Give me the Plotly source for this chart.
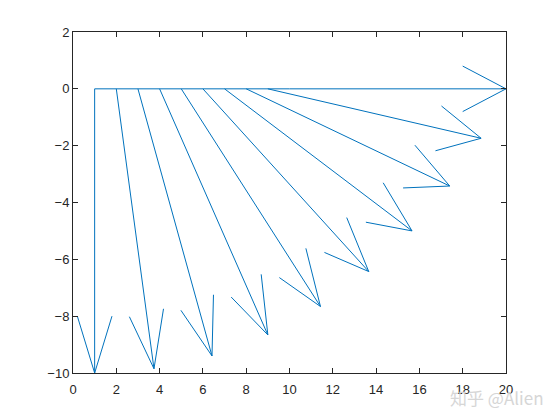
import plotly.graph_objects as go

# Arrow data (quiver-style): start points and vector components
x0 = [1, 2, 3, 4, 5, 6, 7, 8, 9, 10]
y0 = [0, 0, 0, 0, 0, 0, 0, 0, 0, 0]
u = [0.0, 1.74, 3.42, 5.0, 6.43, 7.66, 8.66, 9.40, 9.85, 10.0]
v = [-10.0, -9.85, -9.40, -8.66, -7.66, -6.43, -5.0, -3.42, -1.74, 0.0]

x_ticks = [0, 2, 4, 6, 8, 10, 12, 14, 16, 18, 20]
y_ticks = [-10, -8, -6, -4, -2, 0, 2]

alpha = 0.2  # head length relative to vector
beta = 0.4   # head half-width relative to head length

xs, ys = [], []
# baseline connecting the start points
xs += list(x0) + [None]
ys += list(y0) + [None]
for xi, yi, ui, vi in zip(x0, y0, u, v):
    tx, ty = xi + ui, yi + vi
    # shaft
    xs += [xi, tx, None]
    ys += [yi, ty, None]
    # head
    xs += [tx - alpha * (ui + beta * vi), tx, tx - alpha * (ui - beta * vi), None]
    ys += [ty - alpha * (vi - beta * ui), ty, ty - alpha * (vi + beta * ui), None]

fig = go.Figure(go.Scatter(x=xs, y=ys, mode="lines",
                           line=dict(color="#0072BD", width=1),
                           hoverinfo="skip", showlegend=False))

axis_common = dict(showgrid=False, zeroline=False, showline=True, linecolor="#262626",
                   linewidth=1, mirror="allticks", ticks="inside", ticklen=5,
                   tickcolor="#262626", automargin=False,
                   tickfont=dict(family="Liberation Sans, Arial", size=13, color="#262626"))

fig.update_xaxes(range=[0, 20], tickvals=x_ticks, ticklabelstandoff=4, **axis_common)
fig.update_yaxes(range=[-10, 2], tickvals=y_ticks, **axis_common)

fig.add_annotation(text="知乎 @Alien", xref="paper", yref="paper", x=0.98, y=-0.072,
                   xanchor="center", yanchor="middle", showarrow=False,
                   font=dict(family="Noto Sans CJK SC", size=17, color="#d6d6d6"))

fig.update_layout(width=552, height=412, margin=dict(l=65, r=54, t=24, b=47),
                  plot_bgcolor="white", paper_bgcolor="white")

fig.write_html("out.html")
